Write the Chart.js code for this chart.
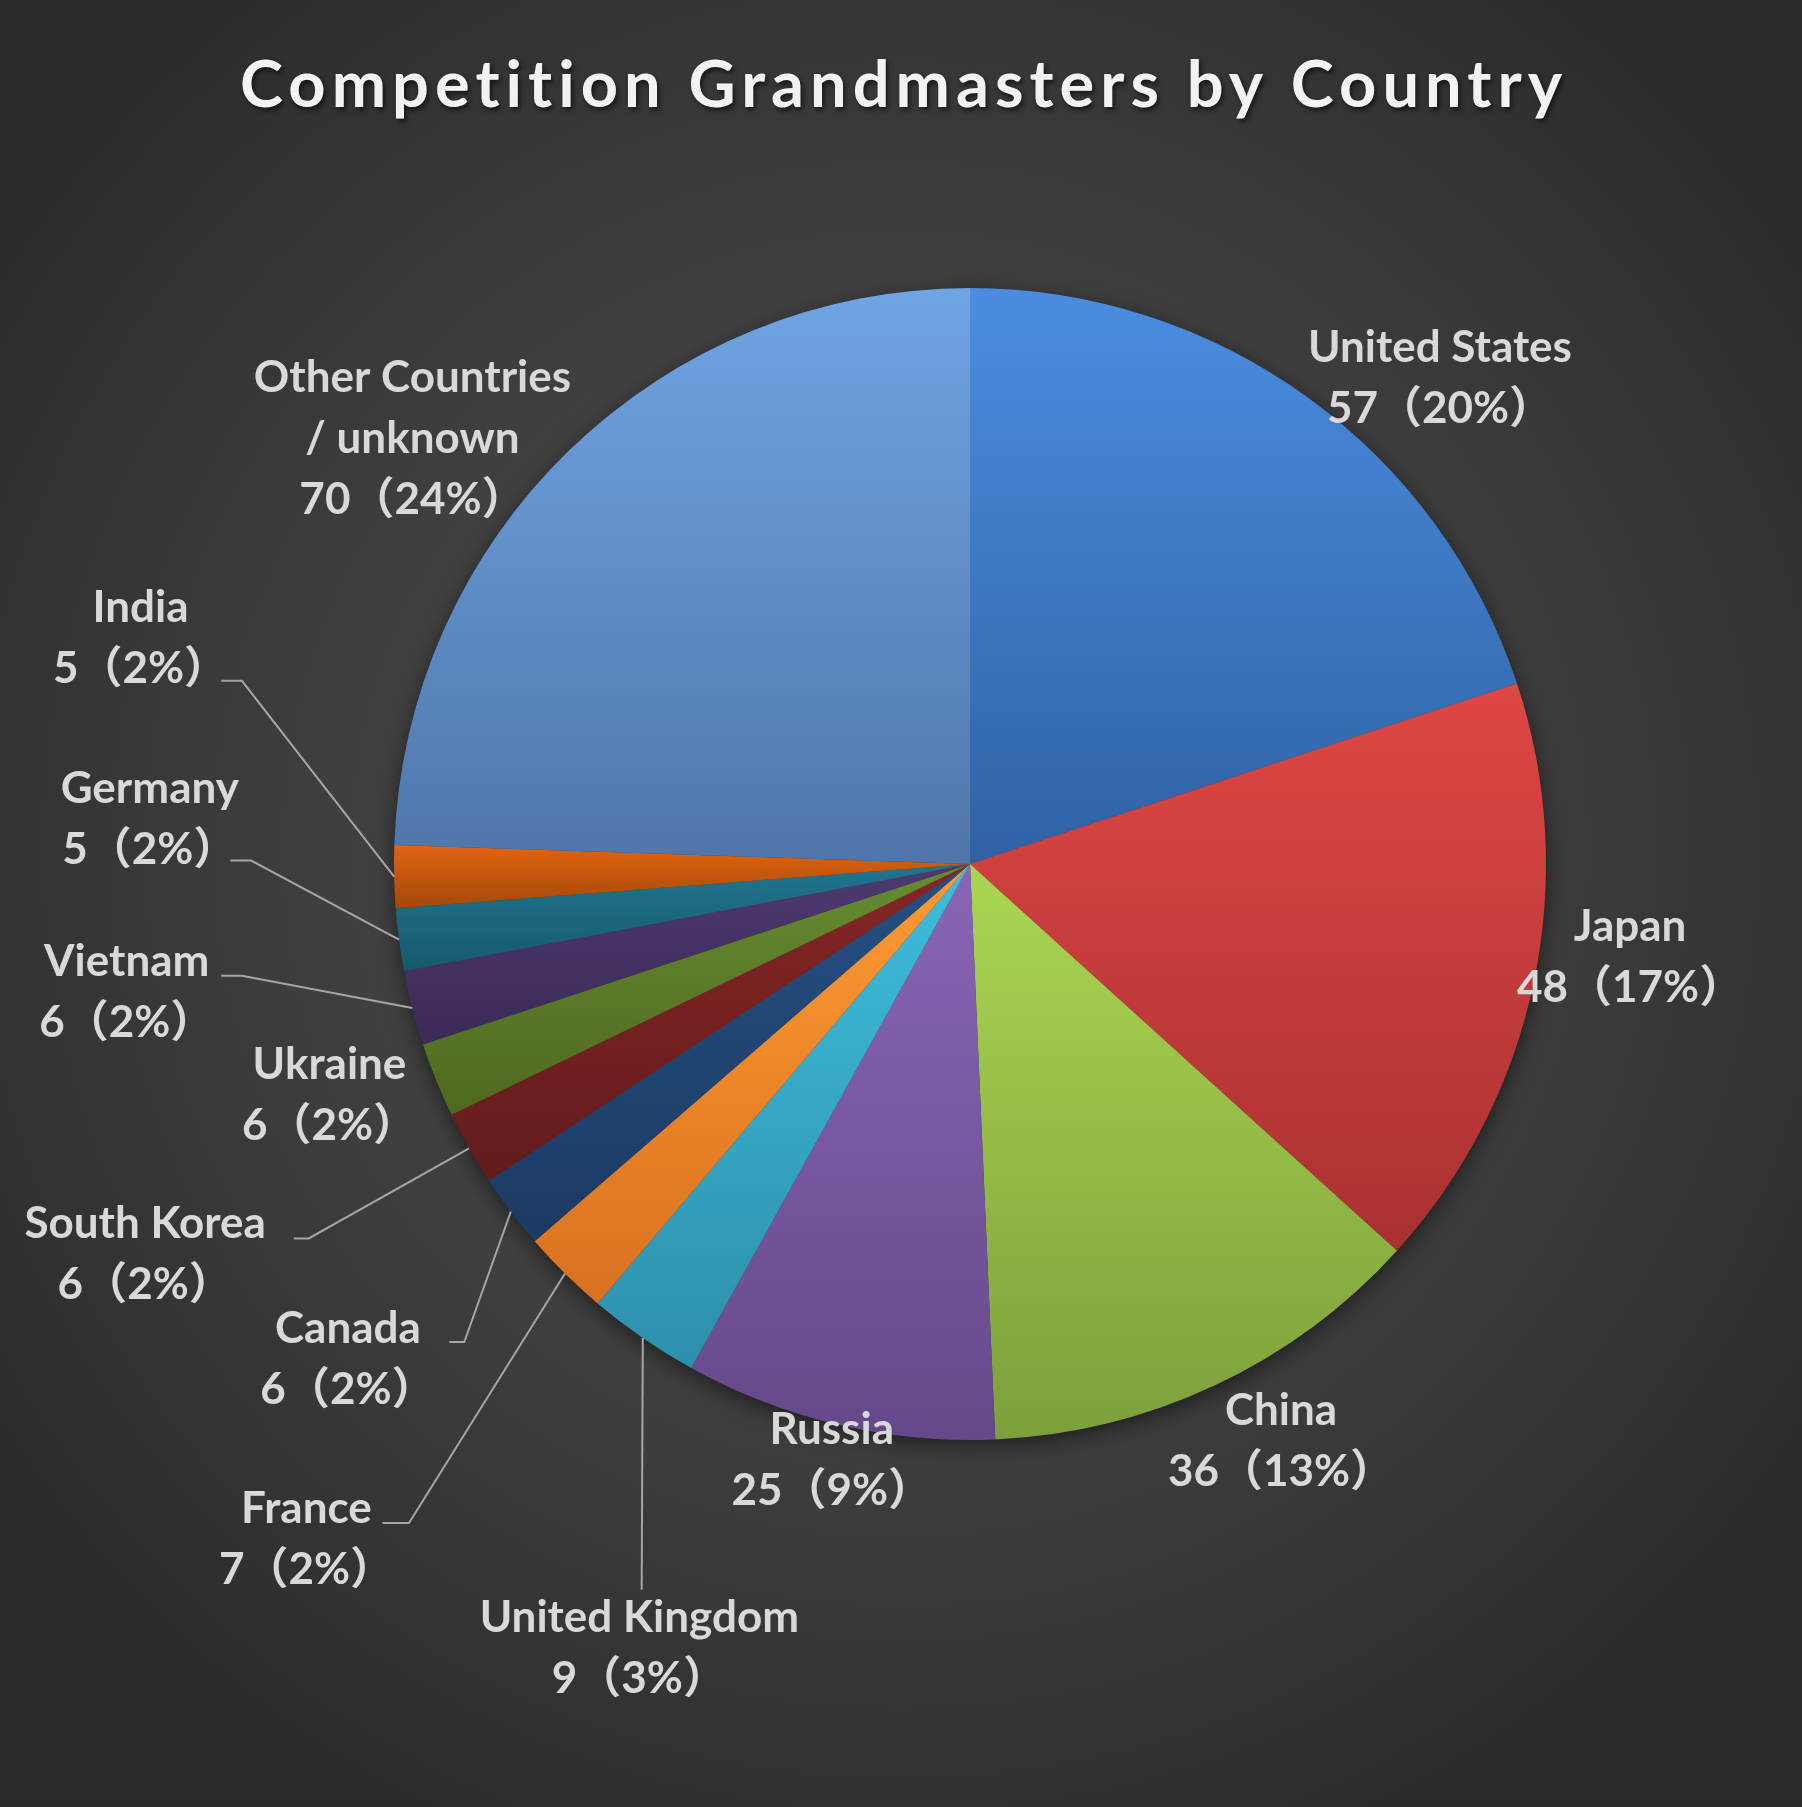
<!DOCTYPE html>
<html>
<head>
<meta charset="utf-8">
<title>Competition Grandmasters by Country</title>
<script src="https://cdn.jsdelivr.net/npm/chart.js@4.4.1/dist/chart.umd.min.js"></script>
<style>
  html, body { margin: 0; padding: 0; }
  body {
    width: 1802px;
    height: 1807px;
    overflow: hidden;
    background: radial-gradient(circle at 50% 47%, #505050 0%, #434343 35%, #2b2b2b 85%);
  }
  #chart-wrap { position: relative; width: 1802px; height: 1807px; }
</style>
</head>
<body>
<div id="chart-wrap">
  <canvas id="gmChart" width="1802" height="1807"></canvas>
</div>
<script>
// ---- Data ----
const countries = [
  'United States', 'Japan', 'China', 'Russia', 'United Kingdom', 'France',
  'Canada', 'South Korea', 'Ukraine', 'Vietnam', 'Germany', 'India',
  ['Other Countries', '/ unknown']
];
const grandmasters = [57, 48, 36, 25, 9, 7, 6, 6, 6, 6, 5, 5, 70];

// slice colours, light (top of slice) and dark (bottom of slice)
const lightColors = [
  '#4a8de0', '#de4744', '#abd652', '#8966b6', '#3ebddd', '#ff9b33',
  '#255083', '#872626', '#678c31', '#4d3a70', '#217590', '#e06410', '#70a4e4'
];
const darkColors = [
  '#3062a4', '#aa3131', '#7d9f3b', '#654889', '#2d8fab', '#d8711f',
  '#1c3a63', '#621b1b', '#4f681f', '#3b2a57', '#17596b', '#a54808', '#4f76aa'
];

// label anchors, in pie radii from the centre
const labelX = [0.816, 1.146, 0.540, -0.240, -0.574, -1.152, -1.080, -1.432, -1.112, -1.464, -1.424, -1.440, -0.968];
const labelY = [-0.844, 0.162, 1.002, 1.036, 1.362, 1.172, 0.860, 0.678, 0.402, 0.222, -0.078, -0.392, -0.738];

// leader lines: slice index, attach point near the label (radii), hook length (radii)
const leaders = [
  { index: 4, ax: -0.570, ay: 1.260, hook: 0 },
  { index: 5, ax: -1.020, ay: 1.144, hook: 0.046 },
  { index: 6, ax: -0.904, ay: 0.830, hook: 0.026 },
  { index: 7, ax: -1.174, ay: 0.650, hook: 0.026 },
  { index: 9, ax: -1.300, ay: 0.194, hook: 0.036 },
  { index: 10, ax: -1.284, ay: -0.006, hook: 0.036 },
  { index: 11, ax: -1.300, ay: -0.318, hook: 0.036 }
];

const total = grandmasters.reduce((a, b) => a + b, 0);
const LABEL_FONT = 'bold 44px Lato, "Noto Sans CJK SC", sans-serif';
const LINE_H = 61;

// Vertical gradient spanning each slice's own bounding box
function sliceGradient(context) {
  const i = context.dataIndex;
  const chart = context.chart;
  const area = chart.chartArea;
  if (!area) return lightColors[i];

  const cx = (area.left + area.right) / 2;
  const cy = (area.top + area.bottom) / 2;
  const r = Math.min(area.width, area.height) / 2;

  let before = 0;
  for (let k = 0; k < i; k++) before += grandmasters[k];
  const a0 = -Math.PI / 2 + (before / total) * Math.PI * 2;
  const a1 = -Math.PI / 2 + ((before + grandmasters[i]) / total) * Math.PI * 2;

  const ys = [cy, cy + r * Math.sin(a0), cy + r * Math.sin(a1)];
  if (a0 <= -Math.PI / 2 + 1e-6 || a1 >= Math.PI * 1.5 - 1e-6) ys.push(cy - r);
  if (a0 < Math.PI / 2 && a1 > Math.PI / 2) ys.push(cy + r);

  const top = Math.min(...ys);
  const bottom = Math.max(...ys);
  const g = chart.ctx.createLinearGradient(0, top, 0, bottom);
  g.addColorStop(0, lightColors[i]);
  g.addColorStop(1, darkColors[i]);
  return g;
}

// Soft shadow under the whole pie
const pieShadow = {
  id: 'pieShadow',
  beforeDatasetsDraw(chart) {
    const arc = chart.getDatasetMeta(0).data[0];
    if (!arc) return;
    const ctx = chart.ctx;
    ctx.save();
    ctx.shadowColor = 'rgba(0,0,0,0.55)';
    ctx.shadowBlur = 22;
    ctx.shadowOffsetY = 6;
    ctx.fillStyle = '#3a3a3a';
    ctx.beginPath();
    ctx.arc(arc.x, arc.y, arc.outerRadius - 1, 0, Math.PI * 2);
    ctx.fill();
    ctx.restore();
  }
};

// Title, data labels and leader lines
const pieLabels = {
  id: 'pieLabels',
  afterDatasetsDraw(chart) {
    const ctx = chart.ctx;
    const arcs = chart.getDatasetMeta(0).data;
    const cx = arcs[0].x;
    const cy = arcs[0].y;
    const R = arcs[0].outerRadius;

    // title
    ctx.save();
    ctx.font = 'bold 65px Lato, sans-serif';
    ctx.letterSpacing = '6px';
    ctx.textAlign = 'center';
    ctx.textBaseline = 'alphabetic';
    ctx.fillStyle = '#f2f2f2';
    ctx.shadowColor = 'rgba(0,0,0,0.6)';
    ctx.shadowBlur = 5;
    ctx.shadowOffsetX = 2;
    ctx.shadowOffsetY = 3;
    ctx.fillText('Competition Grandmasters by Country', chart.width / 2 + 3, 107);
    ctx.restore();

    // leader lines
    ctx.save();
    ctx.strokeStyle = '#a6a6a6';
    ctx.lineWidth = 2;
    leaders.forEach((ld) => {
      const arc = arcs[ld.index];
      const mid = (arc.startAngle + arc.endAngle) / 2;
      const sx = arc.x + arc.outerRadius * Math.cos(mid);
      const sy = arc.y + arc.outerRadius * Math.sin(mid);
      const ax = cx + ld.ax * R;
      const ay = cy + ld.ay * R;
      ctx.beginPath();
      ctx.moveTo(sx, sy);
      ctx.lineTo(ax + ld.hook * R, ay);
      ctx.lineTo(ax, ay);
      ctx.stroke();
    });
    ctx.restore();

    // labels
    ctx.save();
    ctx.font = LABEL_FONT;
    ctx.fillStyle = '#d9d9d9';
    ctx.textAlign = 'center';
    ctx.textBaseline = 'middle';
    countries.forEach((name, i) => {
      const lines = Array.isArray(name) ? name.slice() : [name];
      const pct = Math.round(grandmasters[i] / total * 100);
      lines.push(grandmasters[i] + '（' + pct + '%）');
      const x = cx + labelX[i] * R;
      const y0 = cy + labelY[i] * R - (lines.length - 1) * LINE_H / 2;
      lines.forEach((ln, k) => ctx.fillText(ln, x, y0 + k * LINE_H));
    });
    ctx.restore();
  }
};

document.addEventListener('DOMContentLoaded', () => {
  const ctx = document.getElementById('gmChart').getContext('2d');

  new Chart(ctx, {
    type: 'pie',
    data: {
      labels: countries,
      datasets: [{
        data: grandmasters,
        backgroundColor: sliceGradient,
        borderWidth: 0
      }]
    },
    options: {
      responsive: false,
      animation: false,
      layout: {
        padding: { left: 394, right: 256, top: 288, bottom: 367 }
      },
      plugins: {
        legend: { display: false },
        tooltip: { enabled: false }
      }
    },
    plugins: [pieShadow, pieLabels]
  });
});
</script>
</body>
</html>
